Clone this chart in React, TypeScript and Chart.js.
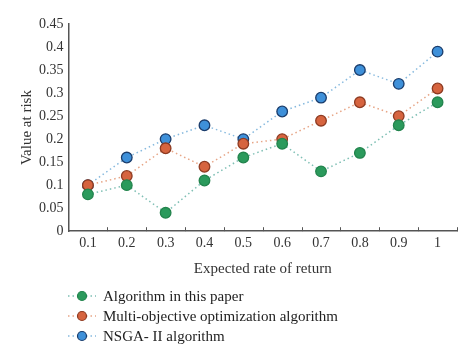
import React, { useEffect, useRef } from "react";
import { Chart, registerables } from "chart.js";

Chart.register(...registerables);

const categories = ["0.1", "0.2", "0.3", "0.4", "0.5", "0.6", "0.7", "0.8", "0.9", "1"];
const paperAlgo = [0.08, 0.1, 0.04, 0.11, 0.16, 0.19, 0.13, 0.17, 0.23, 0.28];
const multiObjective = [0.1, 0.12, 0.18, 0.14, 0.19, 0.2, 0.24, 0.28, 0.25, 0.31];
const nsga2 = [0.1, 0.16, 0.2, 0.23, 0.2, 0.26, 0.29, 0.35, 0.32, 0.39];
const seriesNames = ["Algorithm in this paper", "Multi-objective optimization algorithm", "NSGA- II algorithm"];

const FONT = "'Liberation Serif', 'Times New Roman', serif";

const styles = [
  { fill: "#2b9a5c", border: "#23844d", line: "#7ebfb4" },
  { fill: "#d6643f", border: "#8e3b22", line: "#e7a586" },
  { fill: "#3e90d9", border: "#1b3d6c", line: "#86b9de" },
];

const innerTicks = {
  id: "innerTicks",
  afterDraw(chart: any) {
    const x = chart.scales.x;
    const area = chart.chartArea;
    const ctx = chart.ctx;
    const n = x.ticks.length;
    ctx.save();
    ctx.strokeStyle = "#555";
    ctx.lineWidth = 1;
    for (let i = 1; i <= n; i++) {
      const px = Math.round(x.getPixelForValue(i - 0.5)) + 0.5;
      ctx.beginPath();
      ctx.moveTo(px, area.bottom);
      ctx.lineTo(px, area.bottom - 4);
      ctx.stroke();
    }
    ctx.restore();
  },
};

function LegendRow({ idx }: { idx: number }) {
  const s = styles[idx];
  return (
    <div style={{ display: "flex", alignItems: "center", height: 20 }}>
      <svg width={36} height={20} style={{ display: "block" }}>
        <line x1={1} y1={10} x2={29} y2={10} stroke={s.line} strokeWidth={1.5} strokeDasharray="1.5 3" />
        <circle cx={15} cy={10} r={4.5} fill={s.fill} stroke={s.border} strokeWidth={1.2} />
      </svg>
      <span style={{ fontFamily: FONT, fontSize: 15, color: "#222", whiteSpace: "nowrap" }}>{seriesNames[idx]}</span>
    </div>
  );
}

export default function App() {
  const ref = useRef<HTMLCanvasElement | null>(null);
  useEffect(() => {
    document.body.style.margin = "0";
    const data = [paperAlgo, multiObjective, nsga2];
    const chart = new Chart(ref.current as HTMLCanvasElement, {
      type: "line",
      data: {
        labels: categories,
        datasets: data.map((d, i) => ({
          label: seriesNames[i],
          data: d,
          borderColor: styles[i].line,
          borderWidth: 1.5,
          borderDash: [1.5, 3],
          pointRadius: 5.3,
          pointBackgroundColor: styles[i].fill,
          pointBorderColor: styles[i].border,
          pointBorderWidth: 1.3,
          fill: false,
          tension: 0,
        })),
      },
      options: {
        animation: false,
        responsive: false,
        maintainAspectRatio: false,
        layout: { padding: { top: 24, right: 17, bottom: 83, left: 18 } },
        plugins: { legend: { display: false }, tooltip: { enabled: false } },
        scales: {
          x: {
            type: "category",
            offset: true,
            grid: { display: false, drawTicks: false },
            border: { display: true, color: "#555", width: 1.5 },
            ticks: { color: "#333", font: { family: FONT, size: 14 }, padding: 4, maxRotation: 0 },
            title: { display: true, text: "Expected rate of return", color: "#333", font: { family: FONT, size: 15 }, padding: { top: 4, bottom: 0 } },
          },
          y: {
            min: 0,
            max: 0.45,
            grid: { display: false, drawTicks: false },
            border: { display: true, color: "#555", width: 1.5 },
            ticks: {
              stepSize: 0.05,
              color: "#333",
              font: { family: FONT, size: 14 },
              padding: 5,
              callback: (v: any) => String(parseFloat(Number(v).toFixed(2))),
            },
            title: { display: true, text: "Value at risk", color: "#333", font: { family: FONT, size: 15 }, padding: { top: 0, bottom: -2 } },
          },
        },
      },
      plugins: [innerTicks],
    });
    return () => chart.destroy();
  }, []);
  return (
    <div style={{ position: "relative", width: 474, height: 361, background: "#fff" }}>
      <canvas ref={ref} width={474} height={361} style={{ position: "absolute", left: 0, top: 0 }} />
      <div style={{ position: "absolute", left: 67, top: 286 }}>
        <LegendRow idx={0} />
        <LegendRow idx={1} />
        <LegendRow idx={2} />
      </div>
    </div>
  );
}
